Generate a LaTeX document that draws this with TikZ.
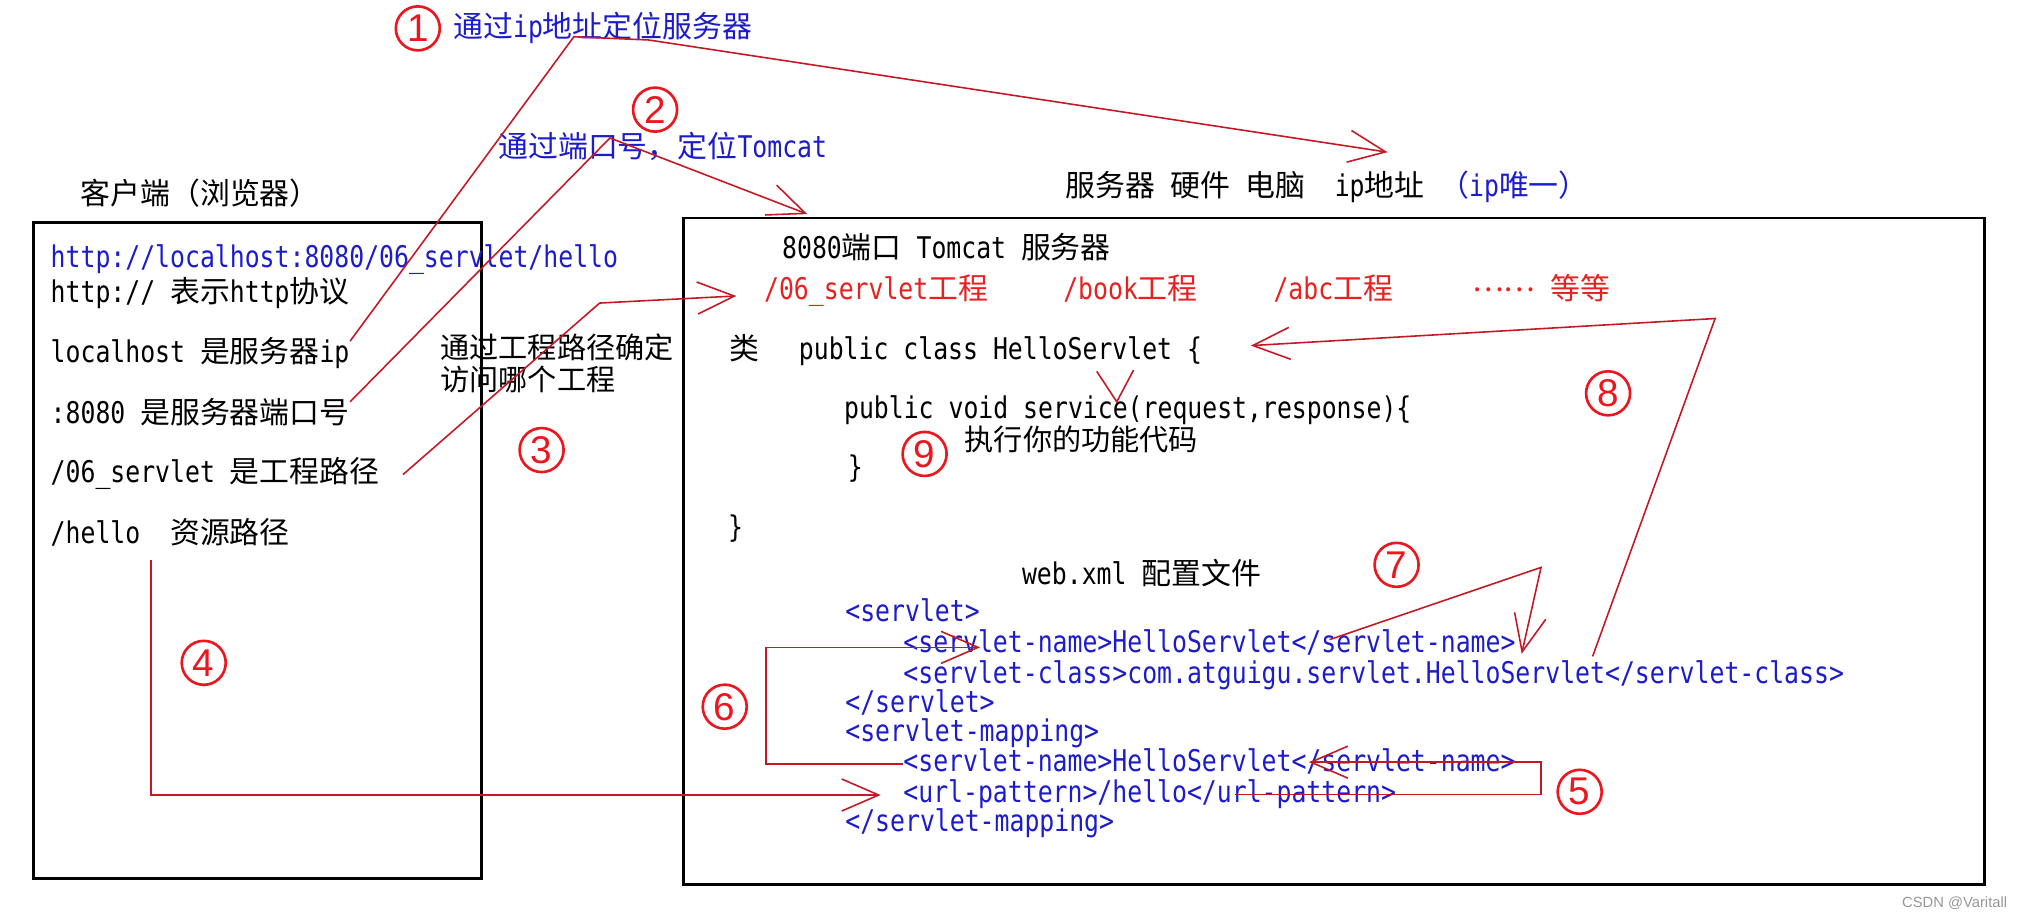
\documentclass[tikz,border=0pt]{standalone}
\usepackage{fontspec}
\setmainfont{DejaVu Sans Mono}[FakeStretch=0.83]
\newfontfamily\zhfont{Noto Sans CJK SC}
\newfontfamily\numfont{Liberation Sans}
\newcommand\zh[1]{{\zhfont #1}}
\usepackage{tikz}
\usetikzlibrary{arrows.meta, positioning}

\definecolor{codeblue}{RGB}{28,28,205}
\definecolor{projred}{RGB}{232,32,32}
\definecolor{numred}{RGB}{236,22,30}
\definecolor{linered}{RGB}{196,24,36}
\definecolor{markgray}{RGB}{150,150,150}

\begin{document}
\begin{tikzpicture}[x=0.0129cm,y=-0.0129cm,
        every node/.style={inner sep=0pt},
        txt/.style={anchor=west,text height=5.9pt,text depth=1.4pt,font=\fontsize{8.5}{10}\selectfont},
        code/.style={txt,text=codeblue},
        proj/.style={txt,text=projred},
        hint/.style={txt,text=codeblue},
        num/.style={circle,draw=numred,line width=0.75pt,text=numred,minimum size=0.44cm,font=\numfont\fontsize{11}{11}\selectfont},
        flow/.style={draw=linered,line width=0.45pt,-{Straight Barb[length=3.7mm,width=3.2mm]}},
        frame/.style={draw=black,line width=0.8pt}]

        \useasboundingbox (0,0) rectangle (1568,713);

        \draw[frame] (26,172.6) rectangle (373.6,681);
        \draw[frame] (530,169) rectangle (1539,685.6);

        % top notes
        \node[hint] (ipnote) at (351,23) {\zh{通过}ip\zh{地址定位服务器}};
        \node[hint] (portnote) at (386,116) {\zh{通过端口号，定位}Tomcat};
        \node[txt] (client) at (62,152.5) {\zh{客户端（浏览器）}};
        \node[txt] (server) at (826,146) {\zh{服务器} \zh{硬件} \zh{电脑}\ \ ip\zh{地址} \textcolor{codeblue}{\zh{（}ip\zh{唯一）}}};

        % client side
        \node[code] (url) at (38.8,201) {http://localhost:8080/06\_servlet/hello};
        \node[txt] (proto) at (38.8,228.7) {http:// \zh{表示}http\zh{协议}};
        \node[txt] (host) at (38.8,275) {localhost \zh{是服务器}ip};
        \node[txt] (port) at (38.8,322) {:8080 \zh{是服务器端口号}};
        \node[txt] (path) at (38.8,368) {/06\_servlet \zh{是工程路径}};
        \node[txt] (res) at (38.8,415) {/hello\ \ \zh{资源路径}};
        \node[txt,align=left,font=\fontsize{8.3}{9.2}\selectfont,text height=,text depth=] (pathnote) at (341,281.5) {\zh{通过工程路径确定}\\\zh{访问哪个工程}};

        % server side
        \node[txt] (tomcat) at (606,194) {8080\zh{端口} Tomcat \zh{服务器}};
        \node[proj] (p06) at (592,226) {/06\_servlet\zh{工程}};
        \node[proj] (pbook) at (824,226) {/book\zh{工程}};
        \node[proj] (pabc) at (987,226) {/abc\zh{工程}};
        \node[proj] (petc) at (1141,226) {\raisebox{0.25em}{\zh{……}} \zh{等等}};
        \node[txt] (lei) at (565,273) {\zh{类}};
        \node[txt] (cls) at (619,273) {public class HelloServlet \{};
        \node[txt] (svc) at (654,318.5) {public void service(request,response)\{};
        \node[txt,font=\fontsize{8.3}{10}\selectfont] (body) at (747.5,343.5) {\zh{执行你的功能代码}};
        \node[txt] (rb1) at (657,364) {\}};
        \node[txt] (rb2) at (564,411) {\}};
        \node[txt] (webxml) at (792,447) {web.xml \zh{配置文件}};

        \node[code] (x0) at (655,476) {<servlet>};
        \node[code] (x1) at (700,500) {<servlet-name>HelloServlet</servlet-name>};
        \node[code] (x2) at (700,523.5) {<servlet-class>com.atguigu.servlet.HelloServlet</servlet-class>};
        \node[code] (x3) at (655,546) {</servlet>};
        \node[code] (x4) at (655,569) {<servlet-mapping>};
        \node[code] (x5) at (700,592.5) {<servlet-name>HelloServlet</servlet-name>};
        \node[code] (x6) at (700,616.5) {<url-pattern>/hello</url-pattern>};
        \node[code] (x7) at (655,639) {</servlet-mapping>};

        % step numbers
        \node[num] (n1) at (324,22) {1};
        \node[num] (n2) at (508,85) {2};
        \node[num] (n3) at (420,349) {3};
        \node[num] (n4) at (158,514) {4};
        \node[num] (n5) at (1225,614) {5};
        \node[num] (n6) at (562,548) {6};
        \node[num] (n7) at (1083,438) {7};
        \node[num] (n8) at (1247,305) {8};
        \node[num] (n9) at (717,352) {9};

        \node[anchor=east,text=markgray,font=\numfont\fontsize{4.2}{5}\selectfont] (mark) at (1557,700) {CSDN @Varitall};

        \coordinate (a1top) at (445,28.5);
        \coordinate (a1knee) at (503,31);
        \coordinate (a1tip) at (1076,118);
        \coordinate (a2top) at (473,107);
        \coordinate (a2tip) at (626,166);
        \coordinate (a3top) at (465,235);
        \coordinate (a3tip) at (571,229.5);
        \coordinate (a4s) at (117,434);
        \coordinate (a5s) at (958,616);
        \coordinate (a5c) at (1195,591);
        \coordinate (a5tip) at (1015,591);
        \coordinate (a6c) at (594,502);
        \coordinate (a6tip) at (760,502);
        \coordinate (a7s) at (1031,496);
        \coordinate (a7top) at (1195,440);
        \coordinate (a7tip) at (1180,507);
        \coordinate (a8s) at (1235,509);
        \coordinate (a8top) at (1330,247);
        \coordinate (a8tip) at (970,268);

        \draw[flow] (host.north east) -- (a1top) -- (a1knee) -- (a1tip);
        \draw[flow] (port.north east) -- (a2top) -- (a2tip);
        \draw[flow] ([xshift=0.23cm]path.east) -- (a3top) -- (a3tip);
        \draw[flow] (a4s) |- ([xshift=-0.22cm]x6.west);
        \draw[flow] (a5s) -| (a5c) -- (a5tip);
        \draw[flow] (x5.west) -| (a6c) -- (a6tip);
        \draw[flow] (a7s) -- (a7top) -- (a7tip);
        \draw[flow] (a8s) -- (a8top) -- (a8tip);
        \draw[draw=linered,line width=0.45pt] (850.5,288) -- (866,311.6) -- (879,287);
\end{tikzpicture}
\end{document}
